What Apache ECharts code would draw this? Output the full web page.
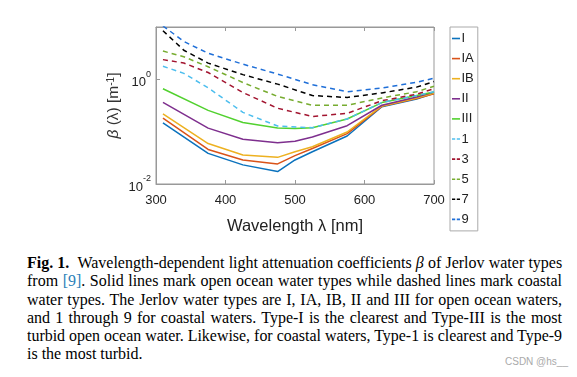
<!DOCTYPE html>
<html>
<head>
<meta charset="utf-8">
<script src="https://cdn.jsdelivr.net/npm/echarts@6/dist/echarts.min.js"></script>
<style>
  html, body { margin: 0; padding: 0; background: #fff; }
  #wrap { position: relative; width: 577px; height: 377px; }
  #chart { position: absolute; left: 0; top: 0; width: 577px; height: 240px; }
  #caption {
    position: absolute; left: 27px; top: 254px; width: 535px;
    font-family: "Liberation Serif", serif; font-size: 16px; line-height: 18.3px; color: #000;
  }
  #caption div { white-space: nowrap; height: 18.3px; }
  #caption span { display: inline-block; transform-origin: 0 50%; }
  #caption a { color: #2b7fb8; text-decoration: none; }
  #mark { position: absolute; left: 505px; top: 356px; font-family: "Liberation Sans", sans-serif; font-size: 10px; color: #aaa; }
</style>
</head>
<body>
<div id="wrap">
  <div id="chart"></div>
  <div id="caption">
    <div class="fill"><span><b>Fig. 1.</b>&nbsp; Wavelength-dependent light attenuation coefficients <i>β</i> of Jerlov water types</span></div>
    <div class="fill"><span>from <a>[9]</a>. Solid lines mark open ocean water types while dashed lines mark coastal</span></div>
    <div class="fill"><span>water types. The Jerlov water types are I, IA, IB, II and III for open ocean waters,</span></div>
    <div class="fill"><span>and 1 through 9 for coastal waters. Type-I is the clearest and Type-III is the most</span></div>
    <div class="fill"><span>turbid open ocean water. Likewise, for coastal waters, Type-1 is clearest and Type-9</span></div>
    <div><span>is the most turbid.</span></div>
  </div>
  <div id="mark">CSDN @hs__</div>
</div>
<script>
// wavelengths (nm)
const solidWl = [310, 375, 425, 475, 500, 525, 575, 625, 675, 700];
const dashedWl = [310, 340, 375, 425, 475, 525, 575, 625, 675, 700];

// open ocean types (solid)
const typeI   = [0.148, 0.0385, 0.0232, 0.0173, 0.0288, 0.0413, 0.0828, 0.30, 0.42, 0.54];
const typeIA  = [0.181, 0.0457, 0.0288, 0.0242, 0.0348, 0.0478, 0.0917, 0.305, 0.43, 0.53];
const typeIB  = [0.219, 0.0594, 0.0357, 0.0323, 0.0413, 0.0514, 0.0986, 0.31, 0.44, 0.55];
const typeII  = [0.363, 0.117, 0.0717, 0.0611, 0.0658, 0.0793, 0.130, 0.32, 0.46, 0.57];
const typeIII = [0.66, 0.255, 0.150, 0.118, 0.115, 0.119, 0.175, 0.36, 0.49, 0.575];

// coastal types (dashed)
const coastal1 = [1.78, 1.30, 0.69, 0.234, 0.128, 0.119, 0.175, 0.36, 0.49, 0.58];
const coastal3 = [2.38, 2.05, 1.35, 0.56, 0.28, 0.195, 0.224, 0.39, 0.52, 0.66];
const coastal5 = [3.47, 2.70, 1.74, 0.87, 0.47, 0.32, 0.32, 0.44, 0.58, 0.74];
const coastal7 = [8.5, 3.6, 2.04, 1.23, 0.81, 0.49, 0.45, 0.55, 0.71, 0.91];
const coastal9 = [10.5, 5.3, 3.15, 1.95, 1.26, 0.79, 0.58, 0.68, 0.88, 1.05];

const xTicks = [300, 400, 500, 600, 700];

// stretch each caption line to the full width (justified look)
document.querySelectorAll("#caption div.fill").forEach((div) => {
  const span = div.querySelector("span");
  const target = 535;
  const spaces = (span.textContent.match(/ /g) || []).length;
  const w = span.getBoundingClientRect().width;
  if (w < target && spaces > 0) {
    span.style.wordSpacing = (target - w) / spaces + "px";
  } else if (w > target) {
    span.style.transform = "scaleX(" + target / w + ")";
  }
});

const solid = [
  { name: "I", data: typeI, color: "#0b72bd" },
  { name: "IA", data: typeIA, color: "#d95319" },
  { name: "IB", data: typeIB, color: "#edb120" },
  { name: "II", data: typeII, color: "#7e2f8e" },
  { name: "III", data: typeIII, color: "#52d12f" },
];
const dashed = [
  { name: "1", data: coastal1, color: "#4dbeee" },
  { name: "3", data: coastal3, color: "#a2142f" },
  { name: "5", data: coastal5, color: "#77ac30" },
  { name: "7", data: coastal7, color: "#000000" },
  { name: "9", data: coastal9, color: "#1f6fd8" },
];

const font = "Liberation Sans";
const solidIcon = "path://M0,0h10v2h-10z";
const dashIcon = "path://M0,0h4v2h-4zM6,0h4v2h-4z";
const chart = echarts.init(document.getElementById("chart"));

const series = solid.map((s) => ({
  name: s.name,
  type: "line",
  symbol: "none",
  color: s.color,
  lineStyle: { width: 1.5, color: s.color },
  data: solidWl.map((w, i) => [w, s.data[i]]),
})).concat(dashed.map((s) => ({
  name: s.name,
  type: "line",
  symbol: "none",
  color: s.color,
  lineStyle: { width: 1.5, color: s.color, type: [5, 4] },
  data: dashedWl.map((w, i) => [w, s.data[i]]),
})));

chart.setOption({
  animation: false,
  textStyle: { fontFamily: font },
  grid: {
    left: 156, right: 143, top: 27, bottom: 54,
    show: true, borderColor: "#999", borderWidth: 1,
  },
  legend: {
    orient: "vertical",
    left: 450, top: 27,
    itemWidth: 9, itemHeight: 1.6, itemGap: 7.1,
    padding: [5, 4, 5, 2],
    borderColor: "#aaa", borderWidth: 1,
    textStyle: { fontSize: 13, color: "#222", fontFamily: font, padding: [0, 0, 0, -4] },
    data: solid.map((s) => ({ name: s.name, icon: solidIcon }))
      .concat(dashed.map((s) => ({ name: s.name, icon: dashIcon }))),
  },
  xAxis: [
    {
      type: "value", min: 300, max: 700, interval: 100,
      name: "Wavelength λ [nm]", nameLocation: "middle", nameGap: 34,
      nameTextStyle: { fontSize: 16.5, color: "#222", fontFamily: font },
      axisLine: { lineStyle: { color: "#999" } },
      axisTick: { inside: true, length: 4, lineStyle: { color: "#999" } },
      axisLabel: { fontSize: 13, color: "#222", margin: 10, formatter: (v) => xTicks.includes(v) ? String(v) : "" },
      splitLine: { show: false },
    },
    {
      type: "value", min: 300, max: 700, interval: 100, position: "top",
      axisLine: { lineStyle: { color: "#999" } },
      axisTick: { inside: true, length: 4, lineStyle: { color: "#999" } },
      axisLabel: { show: false },
      splitLine: { show: false },
    },
  ],
  yAxis: {
    type: "log", logBase: 10, min: 0.01, max: 10, interval: 2,
    name: "{g|β} (λ) [m{s|-1}]", nameLocation: "middle", nameGap: 34, nameRotate: 90,
    nameTextStyle: {
      fontSize: 15.5, color: "#333", fontFamily: font,
      rich: {
        g: { fontSize: 15.5, fontStyle: "italic", color: "#333" },
        s: { fontSize: 10, color: "#333", verticalAlign: "top", padding: [0, 0, 6, 0] },
      },
    },
    axisLine: { lineStyle: { color: "#999" } },
    axisTick: { inside: true, length: 4, lineStyle: { color: "#999" } },
    axisLabel: {
      margin: 5,
      formatter: (v) => {
        if (Math.abs(v - 0.01) < 1e-9) return "{b|10}{s|-2}";
        if (Math.abs(v - 1) < 1e-9) return "{b|10}{s|0}";
        return "";
      },
      rich: {
        b: { fontSize: 13, color: "#222", padding: [6, 0, 0, 0] },
        s: { fontSize: 9, color: "#222", verticalAlign: "top", padding: [0, 0, 6, 0] },
      },
    },
    splitLine: { show: false },
  },
  series: series,
});
</script>
</body>
</html>
